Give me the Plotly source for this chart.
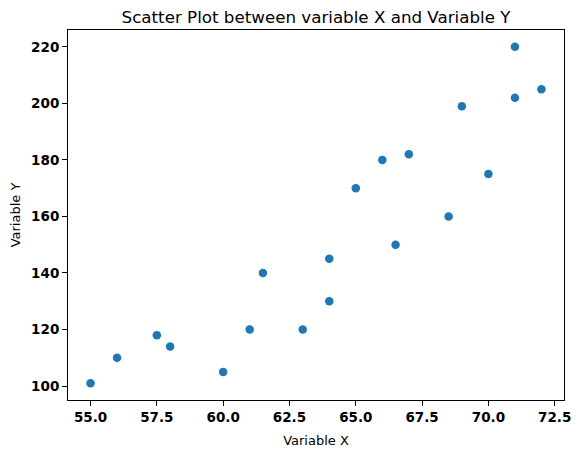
import plotly.graph_objects as go

# values
var_x = [55, 56, 57.5, 58, 60, 61, 61.5, 63, 64, 64, 65, 66, 66.5, 67, 68.5, 69, 70, 71, 71, 72]
var_y = [101, 110, 118, 114, 105, 120, 140, 120, 145, 130, 170, 180, 150, 182, 160, 199, 175, 220, 202, 205]

x_ticks = [55.0, 57.5, 60.0, 62.5, 65.0, 67.5, 70.0, 72.5]
y_ticks = [100, 120, 140, 160, 180, 200, 220]

BLUE = "#1f77b4"
FONT = "DejaVu Sans"

# page body adds an 8px margin, so the figure is 8px smaller than the window
W, H = 574, 452

fig = go.Figure(go.Scatter(
    x=var_x, y=var_y, mode="markers",
    marker=dict(size=8.5, color=BLUE, line=dict(width=0))))

axis = dict(showgrid=False, zeroline=False, showline=True, linecolor="black", linewidth=1,
            mirror=True, ticks="outside", ticklen=5, tickwidth=1, tickcolor="black",
            automargin=False,
            tickfont=dict(family=FONT, size=13.5, color="black", weight="bold"))

fig.update_xaxes(range=[54.15, 72.85], tickvals=x_ticks, ticktext=[f"{v:.1f}" for v in x_ticks],
                 title=dict(text="Variable X", font=dict(family=FONT, size=13, color="black"),
                            standoff=11), **axis)
fig.update_yaxes(range=[95.05, 225.95], tickvals=y_ticks,
                 title=dict(text="Variable Y", font=dict(family=FONT, size=13, color="black"),
                            standoff=14), **axis)

fig.update_layout(
    width=W, height=H,
    margin=dict(l=60, r=18, t=22, b=60),
    paper_bgcolor="white", plot_bgcolor="white",
    font=dict(family=FONT, color="black"),
    title=dict(text="Scatter Plot between variable X and Variable Y", xref="paper", x=0.5,
               xanchor="center", y=1 - 9.5 / H, yanchor="middle",
               font=dict(family=FONT, size=16.7, color="black")),
    showlegend=False)

fig.write_html("out.html")
